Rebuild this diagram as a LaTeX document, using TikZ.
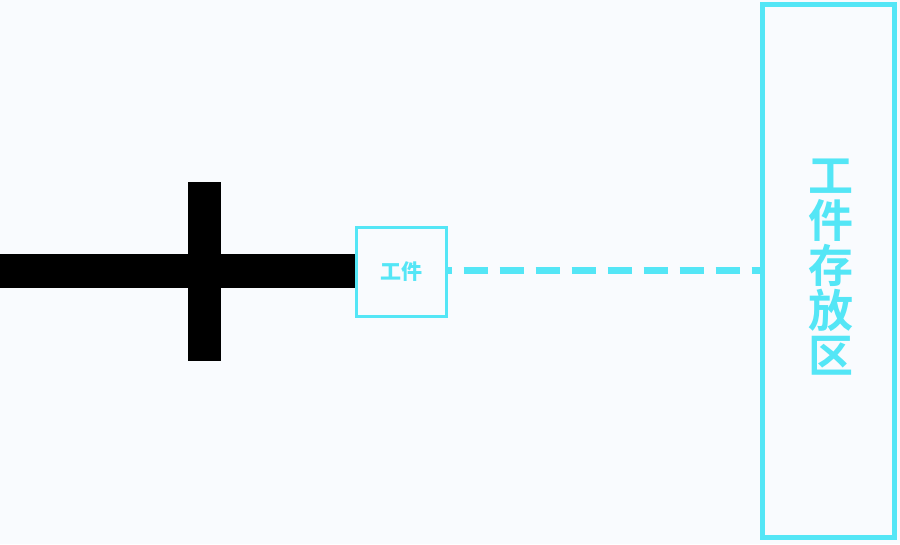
\documentclass[tikz,border=0pt]{standalone}
\usepackage{fontspec}
\newfontfamily\cjk{Noto Sans CJK SC}
\newfontfamily\cjkbold{Noto Sans CJK SC Bold}
\definecolor{cyanline}{RGB}{84,230,246}
\definecolor{bgc}{RGB}{249,251,254}
\tikzset{
  cyanbox/.style={draw=cyanline, rectangle, inner sep=0pt, text=cyanline},
  barfill/.style={fill=black, draw=none},
  dashlink/.style={draw=cyanline, line width=7pt, dash pattern=on 24pt off 12pt, dash phase=20pt}
}
\begin{document}
\begin{tikzpicture}[x=1pt,y=-1pt]
\fill[bgc] (0,0) rectangle (900,544);
\useasboundingbox (0,0) rectangle (900,544);
% black cross
\fill[barfill] (0,254) rectangle (356,288);
\fill[barfill] (188,182) rectangle (221,361);
% small box
\node[cyanbox, line width=3pt, minimum width=89.5pt, minimum height=89pt, font=\cjk\fontsize{21}{21}\selectfont] (part) at (401.25,271.5) {\textbf{工件}};
% big box
\node[cyanbox, line width=5pt, minimum width=132.5pt, minimum height=533pt] (store) at (828.25,271) {};
\node[text=cyanline, font=\cjkbold\fontsize{45}{45}\selectfont, align=center, inner sep=0pt] (storelabel) at (831,267.5) {工\\件\\存\\放\\区};
% dashed link
\coordinate (linkend) at (store.west |- 0,270);
\draw[dashlink] (part.east |- 0,270) -- (linkend);
\end{tikzpicture}
\end{document}
